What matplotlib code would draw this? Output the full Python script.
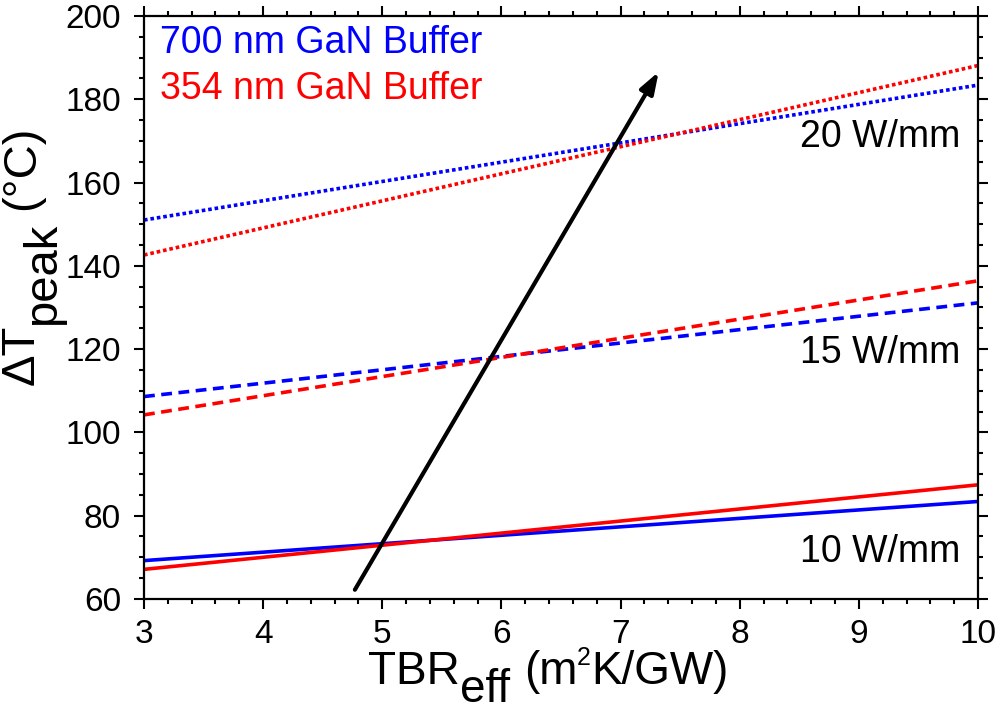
import matplotlib
matplotlib.use("Agg")
import matplotlib.pyplot as plt
from matplotlib.ticker import MultipleLocator

plt.rcParams["font.family"] = ["Liberation Sans", "DejaVu Sans"]

# line endpoints (the fits are straight lines)
tbr = [3, 10]
blue_10 = [69.2, 83.4]
red_10 = [67.1, 87.4]
blue_15 = [108.6, 131.1]
red_15 = [104.2, 136.4]
blue_20 = [151.0, 183.4]
red_20 = [142.6, 188.1]

power_labels = ["10 W/mm", "15 W/mm", "20 W/mm"]
power_label_y = [68.9, 116.7, 168.5]
arrow_start = (4.77, 62.2)
arrow_end = (7.32, 186.6)

# label pieces: (text, fontsize, gap before in pt, baseline shift in pt)
XL, YL = 33, 34
xlabel_parts = [("TBR", XL, 0, 0), ("eff", XL, 0, -13),
                ("(m", XL, 10, 0), ("2", 18, 0, 17), ("K/GW)", XL, 0, 0)]
ylabel_parts = [("ΔT", YL, 0, 0), ("peak", YL, 0, -15),
                ("(°C)", YL, 9, 0)]


def chain_text(fig, ax, parts, x0, y0, vertical=False):
    rot = 90 if vertical else 0
    first = fig.text(x0, y0, parts[0][0], fontsize=parts[0][1],
                     rotation=rot, rotation_mode="anchor",
                     ha="left", va="baseline")
    prev = first
    for txt, size, gap, shift in parts[1:]:
        if vertical:
            coords, xy, off = (first, prev), (1, 1), (-shift, gap)
        else:
            coords, xy, off = (prev, first), (1, 0), (gap, shift)
        prev = ax.annotate(txt, xy=xy, xycoords=coords, xytext=off,
                           textcoords="offset points", fontsize=size,
                           rotation=rot, rotation_mode="anchor",
                           ha="left", va="bottom", annotation_clip=False)
    return first


fig = plt.figure(figsize=(10, 7.13), dpi=100)
ax = fig.add_axes([0.144, 0.160, 0.834, 0.8176])

lw = 2.6
dash = (3, 1.8)
dot = (1, 0.8)
ax.plot(tbr, blue_10, "-", color="blue", lw=lw)
ax.plot(tbr, red_10, "-", color="red", lw=lw)
ax.plot(tbr, blue_15, "--", color="blue", lw=lw, dashes=dash)
ax.plot(tbr, red_15, "--", color="red", lw=lw, dashes=dash)
ax.plot(tbr, blue_20, ":", color="blue", lw=lw, dashes=dot)
ax.plot(tbr, red_20, ":", color="red", lw=lw, dashes=dot)

for lab, yy in zip(power_labels, power_label_y):
    ax.text(9.85, yy, lab, ha="right", va="baseline", fontsize=27)

ax.text(0.019, 0.9365, "700 nm GaN Buffer", color="blue", fontsize=27,
        ha="left", va="baseline", transform=ax.transAxes)
ax.text(0.019, 0.8576, "354 nm GaN Buffer", color="red", fontsize=27,
        ha="left", va="baseline", transform=ax.transAxes)

ax.annotate("", xy=arrow_end, xytext=arrow_start,
            arrowprops=dict(arrowstyle="-|>,head_length=1.3,head_width=0.45",
                            color="black", lw=3, shrinkA=0, shrinkB=0))

ax.set_xlim(3, 10)
ax.set_ylim(60, 200)
ax.xaxis.set_major_locator(MultipleLocator(1))
ax.xaxis.set_minor_locator(MultipleLocator(0.2))
ax.yaxis.set_major_locator(MultipleLocator(20))
ax.yaxis.set_minor_locator(MultipleLocator(5))
ax.tick_params(which="both", direction="out", top=True, right=True,
               width=1.5, labelsize=24)
ax.tick_params(which="major", length=7.5)
ax.tick_params(which="minor", length=3.5)
ax.tick_params(axis="x", which="major", pad=7)
ax.tick_params(axis="y", which="major", pad=9)
for sp in ax.spines.values():
    sp.set_linewidth(1.6)

chain_text(fig, ax, xlabel_parts, 0.368, 1 - 684 / 713)
chain_text(fig, ax, ylabel_parts, 0.034, 1 - 385 / 713, vertical=True)

fig.savefig("out.png", dpi=100)
